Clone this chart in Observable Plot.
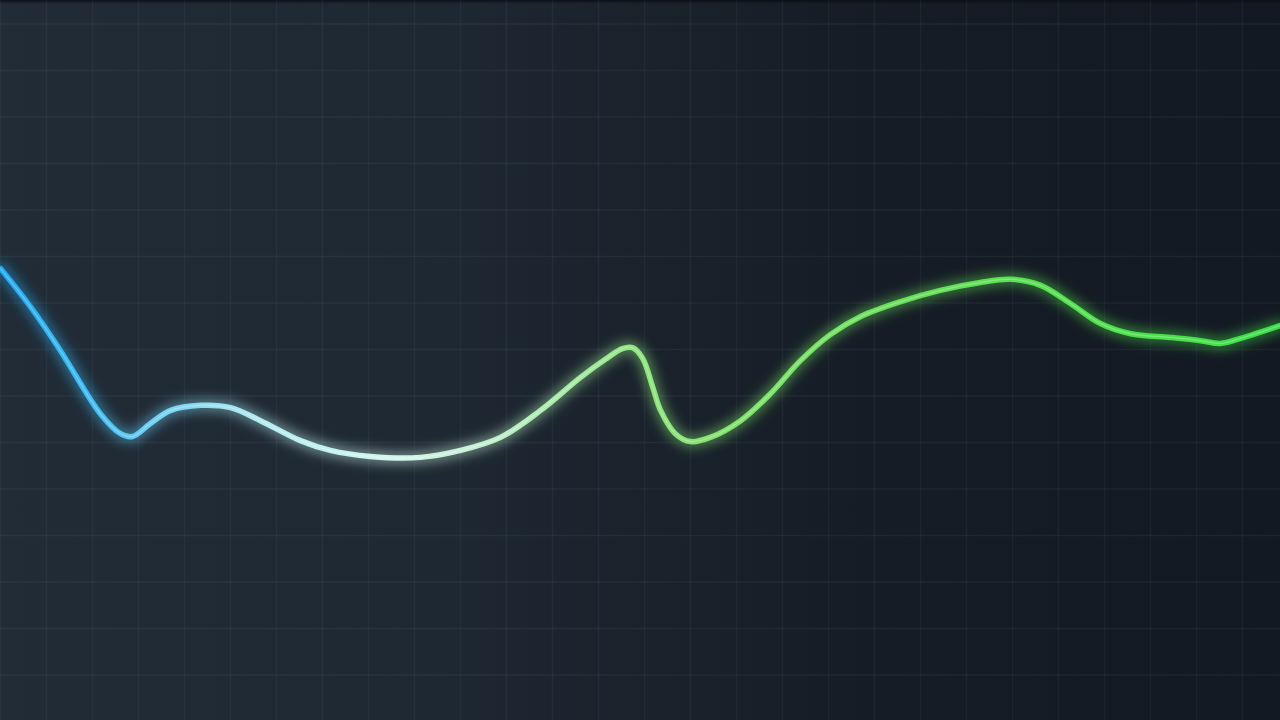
<!DOCTYPE html>
<html>
<head>
<meta charset="utf-8">
<script src="https://cdn.jsdelivr.net/npm/d3@7"></script>
<script src="https://cdn.jsdelivr.net/npm/@observablehq/plot@0.6"></script>
<style>
  html, body { margin: 0; padding: 0; width: 1280px; height: 720px; overflow: hidden; }
  body {
    background:
      linear-gradient(to bottom, rgba(10,14,20,0.9) 0px, rgba(10,14,20,0) 4px),
      linear-gradient(to right, #212c37 0%, #1e2832 35%, #161d26 65%, #131922 100%);
  }
  #chart svg { display: block; background: transparent; }
</style>
</head>
<body>
<div id="chart"></div>
<script>
// time axis (grid units) and signal level (grid units)
const t = [0, 0.65, 1.30, 2.17, 2.61, 2.87, 3.26, 3.70, 4.35, 5.00, 5.65, 6.52, 7.17, 8.04, 9.13,
           10.0, 10.87, 11.74, 12.61, 13.15, 13.52, 13.74, 13.96, 14.17, 14.35, 14.67, 15.0, 15.43, 16.09, 16.74,
           17.39, 18.04, 18.70, 19.57, 20.43, 21.30, 21.96, 22.61, 23.26, 23.91, 24.57, 25.43, 26.09, 26.52,
           26.96, 27.83];
const level = [9.74, 8.92, 7.98, 6.62, 6.19, 6.13, 6.41, 6.69, 6.80, 6.75, 6.47, 6.04, 5.83, 5.70, 5.68,
               5.83, 6.11, 6.69, 7.40, 7.79, 8.02, 8.04, 7.81, 7.22, 6.69, 6.19, 6.02, 6.11, 6.47, 7.05,
               7.76, 8.32, 8.71, 9.03, 9.27, 9.44, 9.51, 9.38, 8.99, 8.56, 8.34, 8.26, 8.19, 8.13,
               8.24, 8.52];
const xGrid = d3.range(0, 28, 1);
const yGrid = d3.range(1, 16, 1);

const data = t.map((d, i) => ({t: d, v: level[i]}));

const plot = Plot.plot({
  width: 1280,
  height: 720,
  margin: 0,
  x: {domain: [0, 1280 / 46], axis: null},
  y: {domain: [(721 - 720) / 46.5, 721 / 46.5], axis: null},
  style: {background: "transparent"},
  marks: [
    Plot.ruleX(xGrid, {stroke: "#a9c2d6", strokeOpacity: 0.06, strokeWidth: 1.5}),
    Plot.ruleY(yGrid, {stroke: "#a9c2d6", strokeOpacity: 0.065, strokeWidth: 1.5}),
    Plot.line(data, {x: "t", y: "v", curve: "catmull-rom", stroke: "url(#lineGrad)", strokeWidth: 12, strokeOpacity: 0.5, className: "glow"}),
    Plot.line(data, {x: "t", y: "v", curve: "catmull-rom", stroke: "url(#lineGrad)", strokeWidth: 5.5, className: "core"}),
    Plot.line(data, {x: "t", y: "v", curve: "catmull-rom", stroke: "#ffffff", strokeWidth: 1.5, strokeOpacity: 0.25})
  ]
});

const svg = d3.select(plot);
const defs = svg.insert("defs", ":first-child");
const grad = defs.append("linearGradient")
  .attr("id", "lineGrad")
  .attr("gradientUnits", "userSpaceOnUse")
  .attr("x1", 0).attr("y1", 0).attr("x2", 1280).attr("y2", 0);
[
  [0.00, "#22a9f2"],
  [0.07, "#3dbcf3"],
  [0.12, "#6fd0f2"],
  [0.20, "#b2ebf0"],
  [0.30, "#d2f6ee"],
  [0.38, "#c4f0d2"],
  [0.44, "#a6eaa6"],
  [0.50, "#8fe47e"],
  [0.58, "#7fe26a"],
  [0.70, "#67e05a"],
  [0.85, "#4fe04c"],
  [1.00, "#3ddf48"]
].forEach(([o, c]) => grad.append("stop").attr("offset", o).attr("stop-color", c));

const f = defs.append("filter").attr("id", "blurGlow")
  .attr("x", "-10%").attr("y", "-50%").attr("width", "120%").attr("height", "200%");
f.append("feGaussianBlur").attr("stdDeviation", 6);
const f2 = defs.append("filter").attr("id", "softCore")
  .attr("x", "-10%").attr("y", "-50%").attr("width", "120%").attr("height", "200%");
f2.append("feGaussianBlur").attr("stdDeviation", 0.6);

svg.selectAll("g.glow").attr("filter", "url(#blurGlow)");
svg.selectAll("g.core").attr("filter", "url(#softCore)");

document.getElementById("chart").appendChild(plot);
</script>
</body>
</html>
